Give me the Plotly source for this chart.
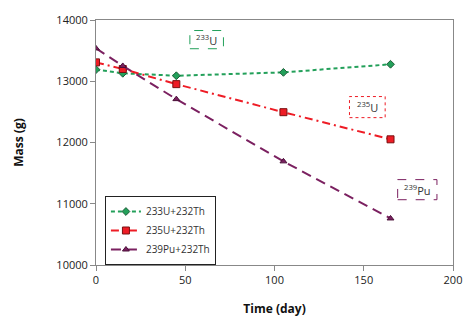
import plotly.graph_objects as go

time_days = [0, 15, 45, 105, 165]
u233_th = [13190, 13130, 13090, 13145, 13277]
u235_th = [13308, 13200, 12953, 12495, 12052]
pu239_th = [13536, 13250, 12708, 11692, 10760]

series_names = ["233U+232Th", "235U+232Th", "239Pu+232Th"]
y_ticks = [10000, 11000, 12000, 13000, 14000]
x_ticks = [0, 50, 100, 150, 200]
green = "#23a05a"
red = "#ee1c25"
purple = "#7b2060"

fig = go.Figure()
fig.add_trace(go.Scatter(x=time_days, y=u233_th, mode="lines+markers", name=series_names[0],
                         line=dict(color=green, width=2, dash="4px,3px"),
                         marker=dict(symbol="diamond", size=6, color=green, line=dict(color="#1f5e3a", width=1))))
fig.add_trace(go.Scatter(x=time_days, y=u235_th, mode="lines+markers", name=series_names[1],
                         line=dict(color=red, width=2, dash="8px,4px,2px,4px"),
                         marker=dict(symbol="square", size=7, color=red, line=dict(color="#7a1010", width=1))))
fig.add_trace(go.Scatter(x=time_days, y=pu239_th, mode="lines+markers", name=series_names[2],
                         line=dict(color=purple, width=2, dash="10px,6px"),
                         marker=dict(symbol="triangle-up", size=6, color=purple, line=dict(color="#4a1038", width=1))))

font = "Open Sans, Liberation Sans, sans-serif"

annots = [
    ((52.6, 71.4), (13531, 13828), "<sup>233</sup>U", green, "dash"),
    ((142, 162), (12406, 12750), "<sup>235</sup>U", red, "dot"),
    ((169, 191), (11066, 11394), "<sup>239</sup>Pu", purple, "dash"),
]
for (x0, x1), (y0, y1), t, c, d in annots:
    fig.add_shape(type="rect", x0=x0, x1=x1, y0=y0, y1=y1, xref="x", yref="y",
                  line=dict(color=c, width=1, dash=d), fillcolor="white", layer="above")
    fig.add_annotation(x=(x0 + x1) / 2, y=(y0 + y1) / 2, text=t, showarrow=False,
                       font=dict(family=font, size=11, color="#333"))

fig.update_layout(
    width=474, height=326,
    margin=dict(l=96, r=15, t=14, b=55),
    paper_bgcolor="white", plot_bgcolor="white",
    font=dict(family=font, size=11, color="#222"),
    showlegend=True,
    legend=dict(x=0.025, y=0.0, xanchor="left", yanchor="bottom",
                bordercolor="#222", borderwidth=1, bgcolor="white",
                font=dict(size=10, color="#333"), tracegroupgap=0, itemwidth=30),
    xaxis=dict(range=[0, 200], tickvals=x_ticks, ticktext=[str(v) for v in x_ticks], showgrid=False, zeroline=False,
               showline=True, linecolor="#888", linewidth=1, mirror=True, ticks="outside", ticklen=5, tickcolor="#888",
               title=dict(text="<b>Time (day)</b>", font=dict(size=12, color="#111"), standoff=18)),
    yaxis=dict(range=[10000, 14000], tickvals=y_ticks, ticktext=[str(v) for v in y_ticks], showgrid=False, zeroline=False,
               showline=True, linecolor="#888", linewidth=1, mirror=True, ticks="outside", ticklen=5, tickcolor="#888",
               title=dict(text="<b>Mass (g)</b>", font=dict(size=12, color="#111"), standoff=30)),
)

fig.write_html("out.html")
